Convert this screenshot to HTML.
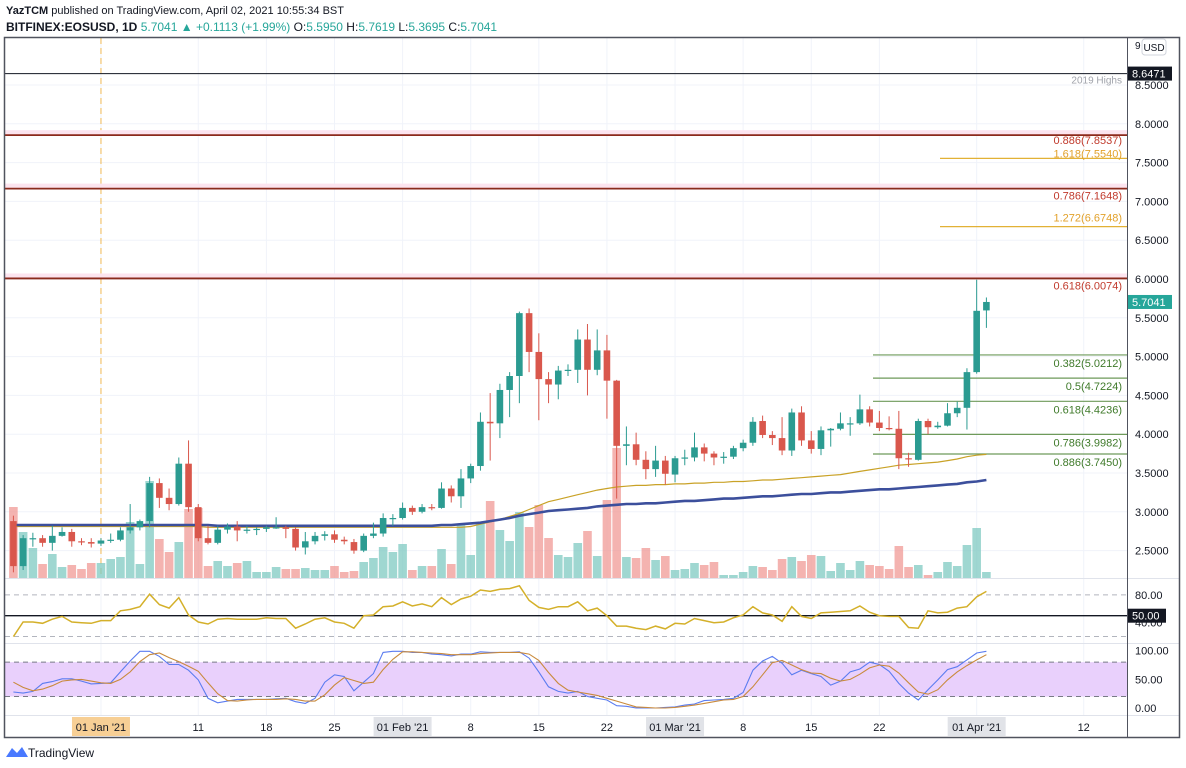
<!DOCTYPE html>
<html><head><meta charset="utf-8"><style>
html,body{margin:0;padding:0;background:#fff;}
svg{display:block;font-family:"Liberation Sans",sans-serif;}
</style></head><body>
<svg id="chart" width="1186" height="768" viewBox="0 0 1186 768" xmlns="http://www.w3.org/2000/svg">
<text x="6" y="14" font-size="11" fill="#131722"><tspan font-weight="bold">YazTCM</tspan> published on TradingView.com, April 02, 2021 10:55:34 BST</text>
<text x="6" y="31" font-size="12" fill="#131722"><tspan font-weight="bold">BITFINEX:EOSUSD, 1D</tspan> <tspan fill="#26a69a">5.7041 ▲ +0.1113 (+1.99%)</tspan> O:<tspan fill="#26a69a">5.5950</tspan> H:<tspan fill="#26a69a">5.7619</tspan> L:<tspan fill="#26a69a">5.3695</tspan> C:<tspan fill="#26a69a">5.7041</tspan></text>
<g id="grid"></g>
<g id="levels"></g>
<g id="vol"></g>
<g id="ma"></g>
<g id="candles"></g>
<g id="rsi"></g>
<g id="stoch"></g>
<g id="axes"></g>
<rect x="4.5" y="37.5" width="1175" height="700" fill="none" stroke="#50535e" stroke-width="1.5"/>
<line x1="1127.5" y1="37" x2="1127.5" y2="738" stroke="#50535e" stroke-width="1"/>
<g>
<path d="M6 757 l6 -9 l5 5 l5 -6 l6 10 z" fill="#2962ff" opacity="0.85"/>
<text x="28" y="757" font-size="12" fill="#131722">TradingView</text>
</g>
</svg>
<script>
const opens=[2.88,2.30,2.66,2.66,2.60,2.69,2.74,2.62,2.61,2.59,2.63,2.64,2.76,2.80,2.88,3.37,3.18,3.10,3.62,3.06,2.66,2.60,2.77,2.81,2.76,2.77,2.78,2.80,2.80,2.78,2.54,2.62,2.69,2.71,2.64,2.61,2.50,2.69,2.72,2.92,2.92,3.05,3.00,3.06,3.05,3.30,3.20,3.43,3.59,4.16,4.14,4.57,4.75,5.56,5.06,4.71,4.64,4.82,4.83,5.22,4.83,5.08,4.69,3.85,3.87,3.67,3.55,3.66,3.48,3.69,3.70,3.83,3.75,3.70,3.71,3.82,3.89,4.17,3.99,3.95,3.79,4.28,3.92,3.81,4.05,4.07,4.14,4.14,4.32,4.15,4.08,4.07,3.69,3.67,4.17,4.09,4.11,4.27,4.34,4.80,5.595];
const highs=[2.95,2.70,2.73,2.70,2.82,2.80,2.78,2.66,2.66,2.66,2.72,2.80,3.10,2.90,3.45,3.43,3.30,3.70,3.92,3.10,2.82,2.82,2.85,2.88,2.82,2.80,2.82,2.93,2.82,2.80,2.74,2.74,2.75,2.76,2.68,2.65,2.72,2.86,2.98,2.97,3.12,3.08,3.10,3.10,3.38,3.34,3.55,3.62,4.28,4.53,4.65,4.80,5.58,5.62,5.30,4.80,4.88,4.90,5.35,5.42,5.35,5.28,4.70,4.10,4.02,3.78,3.85,3.72,3.72,3.80,4.02,3.88,3.78,3.77,3.85,3.93,4.22,4.24,4.04,4.22,4.33,4.36,4.04,4.10,4.08,4.28,4.22,4.51,4.36,4.30,4.23,4.30,3.76,4.20,4.20,4.16,4.40,4.42,4.85,5.99,5.762];
const lows=[2.22,2.25,2.55,2.55,2.50,2.68,2.55,2.57,2.54,2.56,2.60,2.62,2.72,2.76,2.80,3.05,3.02,3.08,3.00,2.62,2.58,2.58,2.72,2.62,2.72,2.70,2.74,2.78,2.66,2.50,2.45,2.58,2.63,2.60,2.58,2.46,2.48,2.66,2.68,2.82,2.90,2.96,2.98,3.02,3.04,3.12,3.05,3.37,3.53,3.66,3.95,4.22,4.40,4.80,4.18,4.40,4.45,4.75,4.66,4.50,4.76,4.20,3.17,3.60,3.60,3.42,3.45,3.35,3.38,3.60,3.65,3.65,3.60,3.62,3.68,3.78,3.85,3.95,3.86,3.73,3.72,3.85,3.75,3.73,3.84,4.05,3.98,4.12,4.10,4.04,4.05,3.55,3.58,3.66,4.00,4.07,4.10,4.22,4.06,4.78,5.37];
const closes=[2.30,2.66,2.66,2.60,2.69,2.74,2.62,2.61,2.59,2.63,2.64,2.76,2.80,2.88,3.37,3.18,3.10,3.62,3.06,2.66,2.60,2.77,2.81,2.76,2.77,2.78,2.80,2.80,2.78,2.54,2.62,2.69,2.71,2.64,2.62,2.50,2.69,2.72,2.92,2.92,3.05,3.00,3.06,3.05,3.30,3.20,3.43,3.59,4.16,4.14,4.57,4.75,5.56,5.06,4.71,4.64,4.82,4.83,5.22,4.83,5.08,4.69,3.85,3.87,3.67,3.55,3.66,3.49,3.69,3.70,3.83,3.75,3.70,3.71,3.82,3.89,4.16,3.99,3.95,3.79,4.28,3.92,3.81,4.05,4.07,4.14,4.14,4.32,4.15,4.08,4.07,3.69,3.68,4.17,4.09,4.11,4.27,4.34,4.80,5.59,5.704];
const volumes=[71,46,30,14,24,11,13,9,15,15,19,21,56,14,97,39,26,36,69,70,12,17,12,15,17,6,6,11,9,9,10,8,8,12,6,7,16,20,31,26,34,8,12,12,29,14,54,23,56,77,48,37,66,51,73,40,23,21,35,47,22,78,130,21,20,30,18,22,8,9,15,13,16,3,3,6,12,11,8,19,21,17,23,22,7,15,8,17,13,12,9,32,11,13,3,6,16,12,33,50,6];
const maSlow=[2.83,2.83,2.83,2.83,2.83,2.83,2.83,2.83,2.83,2.83,2.83,2.83,2.83,2.83,2.83,2.83,2.83,2.83,2.83,2.83,2.83,2.82,2.82,2.82,2.82,2.82,2.82,2.82,2.82,2.82,2.82,2.82,2.82,2.82,2.82,2.82,2.82,2.82,2.82,2.82,2.82,2.82,2.82,2.82,2.83,2.83,2.84,2.85,2.86,2.88,2.90,2.92,2.95,2.97,2.99,3.01,3.02,3.03,3.04,3.05,3.07,3.08,3.09,3.10,3.10,3.11,3.11,3.12,3.13,3.14,3.14,3.15,3.16,3.17,3.17,3.18,3.19,3.20,3.20,3.21,3.22,3.23,3.23,3.24,3.25,3.25,3.26,3.27,3.28,3.29,3.29,3.30,3.31,3.32,3.33,3.34,3.35,3.36,3.38,3.39,3.41];
const maFast=[2.81,2.81,2.81,2.81,2.81,2.81,2.81,2.81,2.81,2.81,2.81,2.81,2.81,2.81,2.81,2.81,2.81,2.81,2.81,2.81,2.80,2.80,2.80,2.80,2.80,2.80,2.80,2.80,2.80,2.80,2.80,2.80,2.80,2.80,2.80,2.80,2.80,2.80,2.80,2.80,2.80,2.80,2.80,2.80,2.80,2.80,2.80,2.81,2.84,2.87,2.90,2.94,2.98,3.03,3.08,3.13,3.16,3.19,3.22,3.25,3.28,3.30,3.32,3.33,3.34,3.34,3.35,3.35,3.36,3.36,3.37,3.37,3.38,3.38,3.39,3.39,3.40,3.41,3.41,3.42,3.43,3.44,3.45,3.46,3.47,3.48,3.50,3.52,3.54,3.56,3.58,3.60,3.61,3.62,3.63,3.64,3.66,3.68,3.71,3.73,3.74];
const rsiValues=[20,41,41,39,45,49,41,40,39,43,43,57,59,63,81,66,61,76,51,41,38,45,46,45,45,45,47,46,46,32,38,45,47,41,39,32,50,51,63,64,70,64,67,63,76,66,74,78,87,85,88,89,93,72,62,59,63,63,70,57,61,50,35,35,32,30,35,31,39,38,46,43,40,41,47,51,63,54,51,42,63,49,46,54,55,56,57,64,55,50,49,49,33,32,57,54,55,61,63,77,85];
const stochK=[28,26,29,43,46,51,51,47,42,43,44,63,82,99,99,90,76,76,66,49,17,9,12,15,15,15,15,16,17,11,8,17,45,58,55,30,45,60,97,99,99,97,97,94,93,91,94,94,98,97,97,97,98,87,63,37,29,26,29,20,17,14,4,3,0,0,0,1,2,5,7,13,14,15,17,27,66,82,90,78,58,66,60,55,40,47,63,68,80,76,64,43,26,14,32,49,67,72,84,96,99];
const stochD=[45,36,30,33,39,47,49,50,47,44,43,50,63,81,93,96,88,81,73,64,44,25,13,12,14,15,15,15,16,15,12,12,23,40,53,48,43,45,67,85,98,98,97,96,95,93,93,93,95,96,97,97,97,94,83,62,43,31,28,25,22,17,12,7,2,1,0,0,1,3,5,8,11,14,15,20,37,58,79,83,75,67,61,60,52,47,50,59,70,75,73,61,44,28,24,32,49,63,74,84,93];
const priceTicks=[2.5,3.0,3.5,4.0,4.5,5.0,5.5,6.0,6.5,7.0,7.5,8.0,8.5];
const priceTickLabels=["2.5000","3.0000","3.5000","4.0000","4.5000","5.0000","5.5000","6.0000","6.5000","7.0000","7.5000","8.0000","8.5000"];
const dateTickDays=[9,19,26,33,40,47,54,61,68,75,82,89,99,110];
const dateTickLabels=["01 Jan '21","11","18","25","01 Feb '21","8","15","22","01 Mar '21","8","15","22","01 Apr '21","12"];
const fullLevels=[8.6471,7.8537,7.1648,6.0074];
const fullLevelLabels=["2019 Highs","0.886(7.8537)","0.786(7.1648)","0.618(6.0074)"];
const extLevels=[7.5540,6.6748];
const extLevelLabels=["1.618(7.5540)","1.272(6.6748)"];
const retLevels=[5.0212,4.7224,4.4236,3.9982,3.7450];
const retLevelLabels=["0.382(5.0212)","0.5(4.7224)","0.618(4.4236)","0.786(3.9982)","0.886(3.7450)"];

const NS="http://www.w3.org/2000/svg";
const xDay=k=>13.4+k*9.73;
const yPrice=p=>279-(p-6)*77.6;
const yVol=v=>578-v;
const yRsi=v=>615.7-(v-50)*0.695;
const yStoch=v=>708-v*0.573;
function mk(tag,parent,attrs){const e=document.createElementNS(NS,tag);for(const k in attrs)e.setAttribute(k,attrs[k]);parent.appendChild(e);return e;}
const g=id=>document.getElementById(id);

const grid=g('grid');
priceTicks.forEach(p=>{const l=mk('line',grid,{x1:5,x2:1127,y1:yPrice(p),y2:yPrice(p),stroke:'#f0f3fa'});

});
dateTickDays.forEach(d=>{const l=mk('line',grid,{x1:xDay(d),x2:xDay(d),y1:38,y2:715,stroke:'#f0f3fa'});

});
const jl=mk('line',grid,{x1:xDay(9),x2:xDay(9),y1:38,y2:578,stroke:'#f0b752','stroke-dasharray':'6,4','stroke-width':1});



const lv=g('levels');
fullLevels.forEach((p,i)=>{const y=yPrice(p);const black=i===0;
if(!black){const b=mk('rect',lv,{x:5,y:y-5,width:1122,height:5,fill:'#fce4ef'});}
const l=mk('line',lv,{x1:5,x2:1127,y1:y,y2:y,stroke:black?'#131722':'#8b2a1c','stroke-width':black?1:1.8});


const t=mk('text',lv,{x:1122,y:y+(black?10:(i===1?9:11)),'text-anchor':'end','font-size':black?10:11,fill:black?'#a0a3ab':'#c0392b'});t.textContent=fullLevelLabels[i];

});
extLevels.forEach((p,i)=>{const y=yPrice(p);
const l=mk('line',lv,{x1:940,x2:1127,y1:y,y2:y,stroke:'#e2b136','stroke-width':1.2});


const t=mk('text',lv,{x:1122,y:y-(i===0?1:5),'text-anchor':'end','font-size':11,fill:'#e2a12a'});t.textContent=extLevelLabels[i];

});
retLevels.forEach((p,i)=>{const y=yPrice(p);
const l=mk('line',lv,{x1:873,x2:1127,y1:y,y2:y,stroke:'#6e9a5a','stroke-width':1.2});


const t=mk('text',lv,{x:1122,y:y+12,'text-anchor':'end','font-size':11,fill:'#3f7a2a'});t.textContent=retLevelLabels[i];

});

const vg=g('vol');
volumes.forEach((v,k)=>{const up=closes[k]>=opens[k];
const r=mk('rect',vg,{x:xDay(k)-4.3,y:yVol(v),width:8.6,height:v,fill:up?'#7fc9c1':'#f09a96',opacity:0.75});

});

function line(parent,arr,fx,fy,color,w){const d=arr.map((v,k)=>(k?'L':'M')+fx(k).toFixed(1)+' '+fy(v).toFixed(1)).join(' ');
return mk('path',parent,{d:d,fill:'none',stroke:color,'stroke-width':w});}
const mg=g('ma');
const m1=line(mg,maFast,xDay,yPrice,'#c9a227',1.2);


const m2=line(mg,maSlow,xDay,yPrice,'#3c4f9c',2.6);



const cg=g('candles');
opens.forEach((o,k)=>{const c=closes[k];const up=c>=o;const col=up?'#2b9b91':'#d9574c';const x=xDay(k);
const w=mk('line',cg,{x1:x,x2:x,y1:yPrice(highs[k]),y2:yPrice(lows[k]),stroke:col,'stroke-width':1});


const yt=yPrice(Math.max(o,c)),yb=yPrice(Math.min(o,c));
const b=mk('rect',cg,{x:x-3.3,y:yt,width:6.6,height:Math.max(1.2,yb-yt),fill:col});

});

const ax=g('axes');
[578,643,715].forEach(y=>{const l=mk('line',ax,{x1:5,x2:1180,y1:y+0.5,y2:y+0.5,stroke:'#e0e3eb'});

});

const rg=g('rsi');
[80,20].forEach(v=>{const l=mk('line',rg,{x1:5,x2:1127,y1:yRsi(v),y2:yRsi(v),stroke:'#b2b5be','stroke-dasharray':'5,4'});

});
const r50=mk('line',rg,{x1:5,x2:1127,y1:yRsi(50),y2:yRsi(50),stroke:'#131722','stroke-width':1.3});


const rl=line(rg,rsiValues,xDay,yRsi,'#d4b02a',1.5);



const sg=g('stoch');
const band=mk('rect',sg,{x:5,y:yStoch(80),width:1122,height:yStoch(20)-yStoch(80),fill:'#e9d0fc'});


[80,20].forEach(v=>{const l=mk('line',sg,{x1:5,x2:1127,y1:yStoch(v),y2:yStoch(v),stroke:'#787b86','stroke-dasharray':'5,4'});

});
const kl=line(sg,stochK,xDay,yStoch,'#5b7cf0',1.1);


const dl=line(sg,stochD,xDay,yStoch,'#c98a3c',1.1);



priceTicks.forEach((p,i)=>{const t=mk('text',ax,{x:1135,y:yPrice(p)+4,'font-size':11,fill:'#131722'});t.textContent=priceTickLabels[i];

});
const nine=mk('text',ax,{x:1135,y:49,'font-size':10,fill:'#131722'});nine.textContent='9';


const usd=mk('rect',ax,{x:1142,y:39,width:24,height:16,rx:3,fill:'#fff',stroke:'#d1d4dc'});


const ut=mk('text',ax,{x:1154,y:51,'text-anchor':'middle','font-size':10,fill:'#131722'});ut.textContent='USD';


function tag(y,txt,bg,name){const r=mk('rect',ax,{x:1128,y:y-7,width:44,height:14,fill:bg});


const t=mk('text',ax,{x:1132,y:y+4,'font-size':11,fill:'#fff'});t.textContent=txt;

}
tag(yPrice(8.6471),'8.6471','#131722','high-price-tag');
tag(yPrice(closes[closes.length-1]),'5.7041','#26a69a','last-price-tag');
[[80,'80.00'],[40,'40.00']].forEach(([v,s])=>{const t=mk('text',ax,{x:1135,y:yRsi(v)+4,'font-size':11,fill:'#131722'});t.textContent=s;

});
const r50b=mk('rect',ax,{x:1128,y:yRsi(50)-7,width:38,height:14,fill:'#131722'});


const r50t=mk('text',ax,{x:1132,y:yRsi(50)+4,'font-size':11,fill:'#fff'});r50t.textContent='50.00';


[[100,'100.00'],[50,'50.00'],[0,'0.00']].forEach(([v,s])=>{const t=mk('text',ax,{x:1135,y:yStoch(v)+4,'font-size':11,fill:'#131722'});t.textContent=s;

});

dateTickDays.forEach((d,i)=>{const x=xDay(d);const s=dateTickLabels[i];const boxed=s.length>3;
if(boxed){const r=mk('rect',ax,{x:x-29,y:717,width:58,height:19,fill:i===0?'#f7cf95':'#e1e3e8'});

}
const t=mk('text',ax,{x:x,y:731,'text-anchor':'middle','font-size':11,fill:'#131722'});t.textContent=s;

});
</script>
</body></html>
